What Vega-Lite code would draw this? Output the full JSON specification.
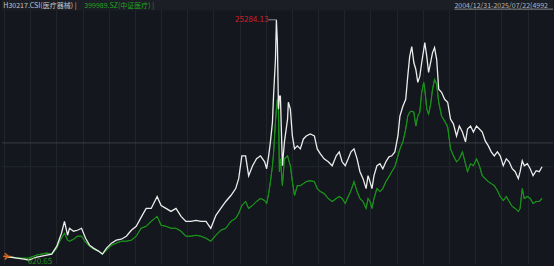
{
  "$schema": "https://vega.github.io/schema/vega-lite/v6.json",
  "width": 554,
  "height": 266,
  "autosize": {"type": "fit", "contains": "padding"},
  "padding": 0,
  "background": "#14171d",
  "config": {"view": {"stroke": null}, "font": "Noto Sans CJK SC"},
  "datasets": {
    "idx": [
      {"d": "2004-12-31", "w": 1000, "g": 1000},
      {"d": "2005-03-23", "w": 930, "g": 940},
      {"d": "2005-06-28", "w": 824, "g": 840},
      {"d": "2005-10-04", "w": 722, "g": 800},
      {"d": "2005-12-12", "w": 620.65, "g": 820},
      {"d": "2006-04-02", "w": 926, "g": 1130},
      {"d": "2006-08-19", "w": 1130, "g": 1333},
      {"d": "2006-10-28", "w": 1232, "g": 1232},
      {"d": "2007-01-07", "w": 2047, "g": 1843},
      {"d": "2007-02-16", "w": 2862, "g": 2556},
      {"d": "2007-03-13", "w": 3371, "g": 2862},
      {"d": "2007-04-24", "w": 4594, "g": 3371},
      {"d": "2007-06-06", "w": 3168, "g": 2658},
      {"d": "2007-07-03", "w": 3881, "g": 2556},
      {"d": "2007-08-28", "w": 3575, "g": 2760},
      {"d": "2007-10-22", "w": 3677, "g": 3066},
      {"d": "2007-12-18", "w": 3881, "g": 3066},
      {"d": "2008-02-12", "w": 2862, "g": 2454},
      {"d": "2008-04-07", "w": 2149, "g": 2047},
      {"d": "2008-06-01", "w": 1843, "g": 1741},
      {"d": "2008-08-10", "w": 1537, "g": 1537},
      {"d": "2008-10-04", "w": 1232, "g": 1232},
      {"d": "2008-12-01", "w": 1843, "g": 1639},
      {"d": "2009-02-07", "w": 2352, "g": 2149},
      {"d": "2009-04-16", "w": 2658, "g": 2352},
      {"d": "2009-06-25", "w": 2760, "g": 2556},
      {"d": "2009-09-03", "w": 3066, "g": 2556},
      {"d": "2009-11-12", "w": 3677, "g": 2658},
      {"d": "2010-01-19", "w": 4085, "g": 3066},
      {"d": "2010-03-28", "w": 5002, "g": 3881},
      {"d": "2010-06-07", "w": 5919, "g": 4085},
      {"d": "2010-08-16", "w": 5919, "g": 4594},
      {"d": "2010-11-07", "w": 7142, "g": 5104},
      {"d": "2011-01-01", "w": 6225, "g": 4187},
      {"d": "2011-03-10", "w": 5919, "g": 4085},
      {"d": "2011-05-19", "w": 5613, "g": 3881},
      {"d": "2011-07-28", "w": 5919, "g": 3881},
      {"d": "2011-10-07", "w": 5104, "g": 3575},
      {"d": "2011-12-13", "w": 4594, "g": 3066},
      {"d": "2012-02-22", "w": 4594, "g": 3066},
      {"d": "2012-05-01", "w": 4696, "g": 3168},
      {"d": "2012-07-10", "w": 4594, "g": 3066},
      {"d": "2012-09-19", "w": 4594, "g": 2862},
      {"d": "2012-11-25", "w": 3881, "g": 2556},
      {"d": "2013-02-04", "w": 5206, "g": 3168},
      {"d": "2013-04-13", "w": 5919, "g": 3677},
      {"d": "2013-06-22", "w": 6632, "g": 3881},
      {"d": "2013-09-01", "w": 7244, "g": 4594},
      {"d": "2013-11-07", "w": 7957, "g": 4900},
      {"d": "2013-12-19", "w": 8976, "g": 5409},
      {"d": "2014-02-01", "w": 11320, "g": 6225},
      {"d": "2014-03-25", "w": 11320, "g": 6632},
      {"d": "2014-05-07", "w": 9282, "g": 5919},
      {"d": "2014-07-01", "w": 10301, "g": 6225},
      {"d": "2014-08-25", "w": 11014, "g": 6632},
      {"d": "2014-10-19", "w": 11320, "g": 6938},
      {"d": "2014-12-16", "w": 10708, "g": 6734},
      {"d": "2015-01-13", "w": 9995, "g": 6428},
      {"d": "2015-02-10", "w": 11320, "g": 7447},
      {"d": "2015-03-07", "w": 12746, "g": 8670},
      {"d": "2015-04-04", "w": 14784, "g": 10301},
      {"d": "2015-04-19", "w": 17434, "g": 11523},
      {"d": "2015-05-16", "w": 21204, "g": 14784},
      {"d": "2015-05-29", "w": 25284.13, "g": 16109},
      {"d": "2015-06-12", "w": 22936, "g": 17128},
      {"d": "2015-06-27", "w": 16109, "g": 16109},
      {"d": "2015-07-10", "w": 17434, "g": 9689},
      {"d": "2015-07-24", "w": 17434, "g": 11014},
      {"d": "2015-08-21", "w": 10301, "g": 8263},
      {"d": "2015-09-18", "w": 12746, "g": 11014},
      {"d": "2015-11-01", "w": 15090, "g": 11320},
      {"d": "2015-11-12", "w": 16822, "g": 11014},
      {"d": "2015-12-10", "w": 16109, "g": 10301},
      {"d": "2016-01-07", "w": 13358, "g": 8670},
      {"d": "2016-02-06", "w": 12033, "g": 7244},
      {"d": "2016-03-16", "w": 12339, "g": 8263},
      {"d": "2016-04-27", "w": 12033, "g": 8263},
      {"d": "2016-06-09", "w": 13052, "g": 8466},
      {"d": "2016-07-19", "w": 13358, "g": 8670},
      {"d": "2016-09-13", "w": 13561, "g": 8772},
      {"d": "2016-11-09", "w": 13358, "g": 8670},
      {"d": "2016-12-19", "w": 12033, "g": 7957},
      {"d": "2017-02-01", "w": 11523, "g": 7651},
      {"d": "2017-03-25", "w": 11014, "g": 7447},
      {"d": "2017-05-22", "w": 10708, "g": 6938},
      {"d": "2017-07-16", "w": 10301, "g": 6632},
      {"d": "2017-09-10", "w": 11320, "g": 6938},
      {"d": "2017-10-22", "w": 11727, "g": 7142},
      {"d": "2017-12-01", "w": 10708, "g": 6938},
      {"d": "2018-01-13", "w": 10301, "g": 6428},
      {"d": "2018-02-24", "w": 11014, "g": 7142},
      {"d": "2018-04-04", "w": 11727, "g": 7753},
      {"d": "2018-05-16", "w": 12033, "g": 8670},
      {"d": "2018-06-28", "w": 11014, "g": 7651},
      {"d": "2018-08-07", "w": 9689, "g": 6938},
      {"d": "2018-09-19", "w": 8976, "g": 6632},
      {"d": "2018-11-01", "w": 7957, "g": 5919},
      {"d": "2018-11-28", "w": 9282, "g": 6938},
      {"d": "2018-12-25", "w": 8670, "g": 6632},
      {"d": "2019-01-22", "w": 7957, "g": 5919},
      {"d": "2019-02-19", "w": 9282, "g": 6938},
      {"d": "2019-04-01", "w": 10301, "g": 7957},
      {"d": "2019-05-13", "w": 10504, "g": 7651},
      {"d": "2019-06-22", "w": 9995, "g": 7957},
      {"d": "2019-08-04", "w": 10708, "g": 8670},
      {"d": "2019-09-16", "w": 11218, "g": 9180},
      {"d": "2019-10-25", "w": 11320, "g": 9689},
      {"d": "2019-12-07", "w": 11727, "g": 10199},
      {"d": "2020-01-19", "w": 13358, "g": 11320},
      {"d": "2020-02-16", "w": 15396, "g": 12033},
      {"d": "2020-03-28", "w": 16415, "g": 12746},
      {"d": "2020-05-07", "w": 17128, "g": 14071},
      {"d": "2020-06-04", "w": 19472, "g": 15396},
      {"d": "2020-07-01", "w": 21510, "g": 15803},
      {"d": "2020-07-30", "w": 22529, "g": 15905},
      {"d": "2020-08-28", "w": 20898, "g": 15803},
      {"d": "2020-09-25", "w": 20185, "g": 14377},
      {"d": "2020-10-22", "w": 18860, "g": 15396},
      {"d": "2020-11-19", "w": 19472, "g": 15803},
      {"d": "2020-12-16", "w": 20898, "g": 17841},
      {"d": "2021-01-13", "w": 22223, "g": 18860},
      {"d": "2021-01-28", "w": 22936, "g": 18147},
      {"d": "2021-02-25", "w": 21510, "g": 16109},
      {"d": "2021-03-22", "w": 19879, "g": 15599},
      {"d": "2021-04-19", "w": 20898, "g": 16618},
      {"d": "2021-05-16", "w": 21917, "g": 18147},
      {"d": "2021-06-13", "w": 22427, "g": 19166},
      {"d": "2021-07-13", "w": 21204, "g": 18656},
      {"d": "2021-08-10", "w": 18147, "g": 16822},
      {"d": "2021-09-19", "w": 17841, "g": 15396},
      {"d": "2021-11-01", "w": 17128, "g": 14886},
      {"d": "2021-12-13", "w": 16822, "g": 14275},
      {"d": "2022-01-22", "w": 15090, "g": 12033},
      {"d": "2022-03-04", "w": 14580, "g": 11320},
      {"d": "2022-04-16", "w": 13358, "g": 10708},
      {"d": "2022-05-25", "w": 14377, "g": 11014},
      {"d": "2022-07-07", "w": 13765, "g": 11727},
      {"d": "2022-08-19", "w": 12746, "g": 10504},
      {"d": "2022-09-16", "w": 14071, "g": 9689},
      {"d": "2022-10-28", "w": 14377, "g": 10504},
      {"d": "2022-12-07", "w": 13765, "g": 10301},
      {"d": "2023-01-19", "w": 14377, "g": 11014},
      {"d": "2023-03-01", "w": 14071, "g": 10301},
      {"d": "2023-04-10", "w": 13765, "g": 9282},
      {"d": "2023-05-22", "w": 12848, "g": 8976},
      {"d": "2023-07-04", "w": 12339, "g": 8670},
      {"d": "2023-08-13", "w": 11727, "g": 8466},
      {"d": "2023-09-25", "w": 11320, "g": 8263},
      {"d": "2023-11-07", "w": 11727, "g": 7753},
      {"d": "2023-12-16", "w": 11320, "g": 7142},
      {"d": "2024-01-28", "w": 10301, "g": 6734},
      {"d": "2024-03-10", "w": 11014, "g": 7142},
      {"d": "2024-04-19", "w": 10708, "g": 6632},
      {"d": "2024-06-01", "w": 9995, "g": 6123},
      {"d": "2024-07-13", "w": 9689, "g": 5919},
      {"d": "2024-08-25", "w": 8976, "g": 5613},
      {"d": "2024-09-19", "w": 9689, "g": 5919},
      {"d": "2024-10-19", "w": 10810, "g": 7957},
      {"d": "2024-11-16", "w": 10301, "g": 6938},
      {"d": "2024-12-28", "w": 10504, "g": 7142},
      {"d": "2025-02-07", "w": 9995, "g": 6938},
      {"d": "2025-03-19", "w": 9282, "g": 6428},
      {"d": "2025-05-01", "w": 9791, "g": 6632},
      {"d": "2025-06-13", "w": 9689, "g": 6632},
      {"d": "2025-07-22", "w": 10199, "g": 6938}
    ]
  },
  "layer": [
    {
      "data": {"name": "idx"},
      "mark": {"type": "line", "color": "#1a8f1a", "strokeWidth": 1},
      "encoding": {
        "x": {"field": "d", "type": "temporal",
          "scale": {"domain": [{"year": 2004, "month": 12, "date": 3}, {"year": 2025, "month": 12, "date": 22}], "nice": false},
          "axis": {"grid": true, "gridColor": "#20242b", "gridWidth": 1, "labels": false, "ticks": false, "domain": false, "title": null, "tickCount": {"interval": "year", "step": 1}}},
        "y": {"field": "g", "type": "quantitative", "scale": {"domain": [213, 27318], "nice": false, "zero": false}, "axis": null}
      }
    },
    {
      "data": {"values": [{}]},
      "mark": {"type": "rule", "color": "#3a3d43", "strokeWidth": 1},
      "encoding": {"y": {"datum": 12644, "type": "quantitative"}}
    },
    {
      "data": {"values": [{}]},
      "mark": {"type": "rule", "color": "#23272e", "strokeWidth": 1},
      "encoding": {"y": {"datum": 10199, "type": "quantitative"}}
    },
    {
      "data": {"name": "idx"},
      "mark": {"type": "line", "color": "#1a8f1a", "strokeWidth": 1.1},
      "encoding": {
        "x": {"field": "d", "type": "temporal"},
        "y": {"field": "g", "type": "quantitative"}
      }
    },
    {
      "data": {"name": "idx"},
      "mark": {"type": "line", "color": "#ececec", "strokeWidth": 1.3},
      "encoding": {
        "x": {"field": "d", "type": "temporal"},
        "y": {"field": "w", "type": "quantitative"}
      }
    },
    {
      "data": {"name": "idx"},
      "transform": [{"filter": "datum.w > 25000"}],
      "mark": {"type": "rule", "color": "#8a8d92", "strokeWidth": 1, "xOffset": -8, "x2Offset": 0},
      "encoding": {
        "x": {"field": "d", "type": "temporal"},
        "x2": {"field": "d"},
        "y": {"field": "w", "type": "quantitative"}
      }
    },
    {
      "data": {"name": "idx"},
      "transform": [{"filter": "datum.w > 25000"}],
      "mark": {"type": "text", "align": "right", "baseline": "middle", "dx": -8, "fontSize": 8, "color": "#d21f2c"},
      "encoding": {
        "x": {"field": "d", "type": "temporal"},
        "y": {"field": "w", "type": "quantitative"},
        "text": {"field": "w", "type": "quantitative", "format": ".2f"}
      }
    },
    {
      "data": {"name": "idx"},
      "transform": [{"filter": "datum.w < 700"}],
      "mark": {"type": "text", "align": "left", "baseline": "middle", "dx": -1, "dy": 2, "fontSize": 8, "color": "#1f8f1f"},
      "encoding": {
        "x": {"field": "d", "type": "temporal"},
        "y": {"field": "w", "type": "quantitative"},
        "text": {"field": "w", "type": "quantitative", "format": ".2f"}
      }
    },
    {
      "data": {"name": "idx"},
      "transform": [{"filter": "datum.w == 1000"}],
      "mark": {"type": "point", "shape": "M-0.6,-0.8L0.4,0L-0.6,0.8M-1,0L1,0", "filled": false, "color": "#e8641a", "strokeWidth": 1.3, "size": 60, "xOffset": 3, "opacity": 1},
      "encoding": {
        "x": {"field": "d", "type": "temporal"},
        "y": {"field": "w", "type": "quantitative"}
      }
    },
    {
      "data": {"values": [{}]},
      "mark": {"type": "rect", "color": "#1b1e24"},
      "encoding": {
        "x": {"datum": {"year": 2004, "month": 12, "date": 3}, "type": "temporal"},
        "x2": {"datum": {"year": 2025, "month": 12, "date": 22}},
        "y": {"datum": 26250, "type": "quantitative"},
        "y2": {"datum": 27318}
      }
    },
    {
      "data": {"values": [{}]},
      "mark": {"type": "text", "text": "H30217.CSI(医疗器械) |", "align": "left", "baseline": "middle", "fontSize": 7, "color": "#c4c6ca"},
      "encoding": {
        "x": {"datum": {"year": 2004, "month": 12, "date": 22}, "type": "temporal"},
        "y": {"datum": 26740, "type": "quantitative"}
      }
    },
    {
      "data": {"values": [{}]},
      "mark": {"type": "text", "text": "399989.SZ(中证医疗) |", "align": "left", "baseline": "middle", "fontSize": 7, "color": "#22a522"},
      "encoding": {
        "x": {"datum": {"year": 2008, "month": 1, "date": 25}, "type": "temporal"},
        "y": {"datum": 26740, "type": "quantitative"}
      }
    },
    {
      "data": {"values": [{}]},
      "mark": {"type": "text", "text": "2004/12/31-2025/07/22(4992", "align": "left", "baseline": "middle", "fontSize": 7, "color": "#b4b6ba"},
      "encoding": {
        "x": {"datum": {"year": 2022, "month": 3, "date": 18}, "type": "temporal"},
        "y": {"datum": 26740, "type": "quantitative"}
      }
    },
    {
      "data": {"values": [{}]},
      "mark": {"type": "rule", "color": "#9a9ca0", "strokeWidth": 0.8},
      "encoding": {
        "x": {"datum": {"year": 2022, "month": 3, "date": 18}, "type": "temporal"},
        "x2": {"datum": {"year": 2025, "month": 12, "date": 22}},
        "y": {"datum": 26380, "type": "quantitative"}
      }
    }
  ]
}
